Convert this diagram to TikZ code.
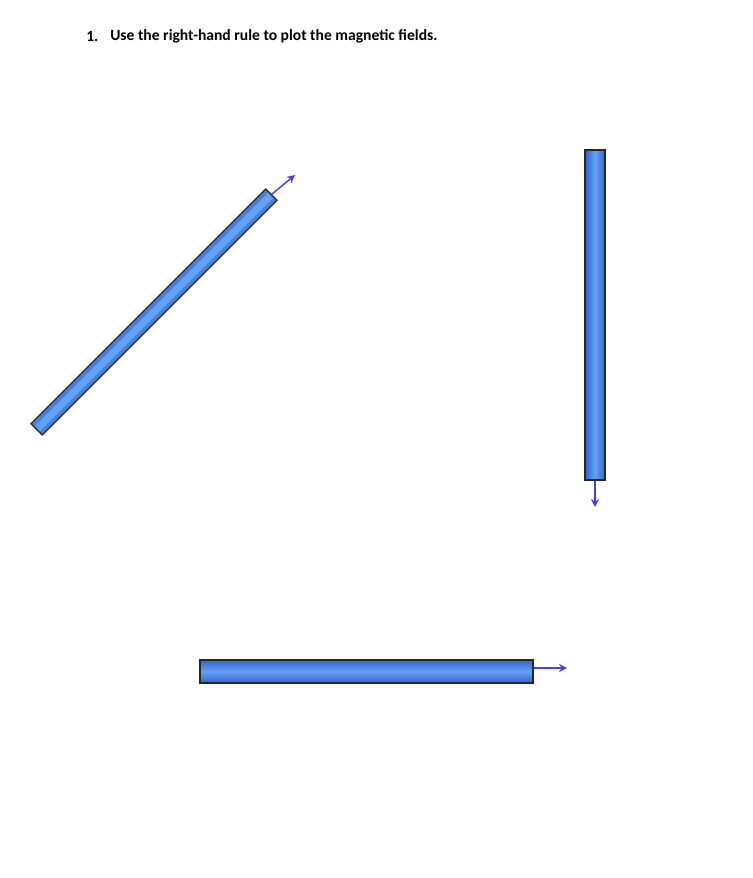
\documentclass[tikz,border=0pt]{standalone}
\usepackage{fontspec}
\setmainfont{Carlito}
\usetikzlibrary{arrows.meta}

\definecolor{wireedge}{RGB}{50,100,200}
\definecolor{wiremid}{RGB}{100,162,248}
\definecolor{currentblue}{RGB}{70,60,240}

\tikzset{
  wirebox/.style={rectangle, draw=black!85, line width=0.9pt, inner sep=0pt},
  wire/.style={wirebox, top color=wireedge, bottom color=wireedge, middle color=wiremid},
  flatwire/.style={wirebox, fill=wireedge!55!wiremid},
  shine/.style={draw=wiremid, line width=7*0.75pt, shorten >=1.5pt, shorten <=1.5pt},
  current/.style={draw=currentblue, line width=1.1pt, -{Stealth[length=6pt,width=6pt]}}
}

\begin{document}
\begin{tikzpicture}[x=0.75pt, y=-0.75pt]
        \useasboundingbox (0,0) rectangle (753,878);
        % Heading
        \node[anchor=west, inner sep=0pt, font=\fontsize{11.7}{13}\selectfont\bfseries] (num) at (86,36) {1.};
        \node[anchor=west, inner sep=0pt, font=\fontsize{11.7}{13}\selectfont\bfseries] (task) at (110,36) {Use the right-hand rule to plot the magnetic fields.};

        % Diagonal wire
        \node[flatwire, rotate=45, minimum width=332*0.75pt, minimum height=16*0.75pt] (diag) at (154,312) {};
        \draw[shine] (diag.west) -- (diag.east);
        \coordinate (diagtip) at (295,175);
        \draw[current] (diag.east) -- (diagtip);

        % Vertical wire
        \node[wire, rotate=-90, shading angle=90, minimum width=330*0.75pt, minimum height=20*0.75pt] (vert) at (595,315) {};
        \coordinate (verttip) at (595,507);
        \draw[current] (vert.east) -- (verttip);

        % Horizontal wire
        \node[wire, minimum width=333*0.75pt, minimum height=23*0.75pt] (horiz) at (366.5,671.5) {};
        \coordinate (horiztip) at (567,668);
        \draw[current] (horiz.east |- horiztip) -- (horiztip);
    \end{tikzpicture}
\end{document}
